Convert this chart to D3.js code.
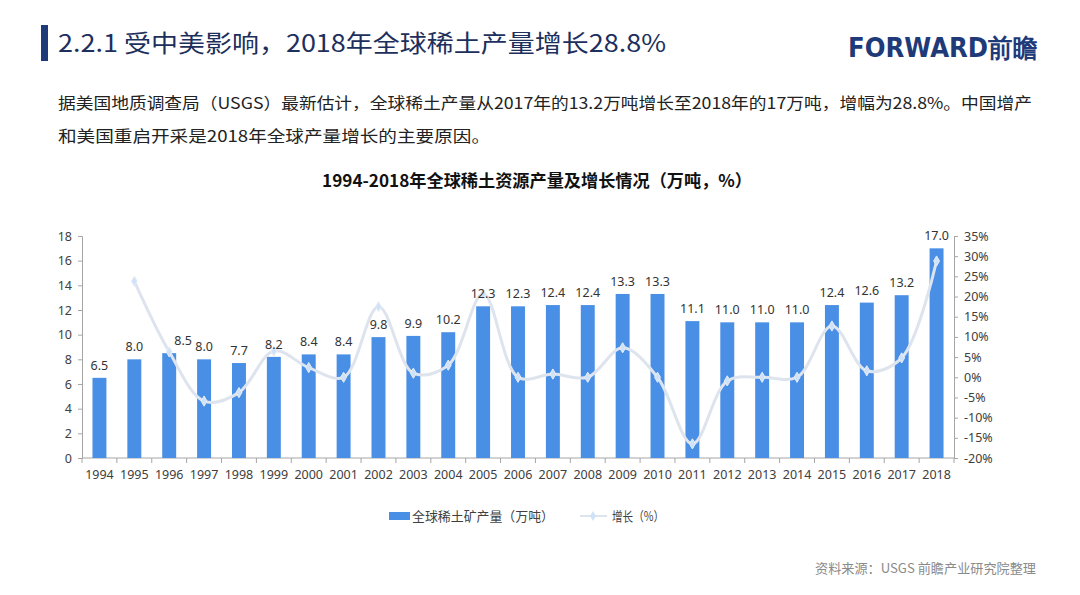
<!DOCTYPE html>
<html>
<head>
<meta charset="utf-8">
<script src="https://cdn.jsdelivr.net/npm/d3@7"></script>
<style>
  body { margin: 0; background: #ffffff; }
  svg { display: block; }
</style>
</head>
<body>
<script>
// data
var years = ["1994", "1995", "1996", "1997", "1998", "1999", "2000", "2001", "2002",
  "2003", "2004", "2005", "2006", "2007", "2008", "2009", "2010", "2011", "2012",
  "2013", "2014", "2015", "2016", "2017", "2018"];
var output = [6.5, 8.0, 8.5, 8.0, 7.7, 8.2, 8.4, 8.4, 9.8, 9.9, 10.2, 12.3, 12.3,
  12.4, 12.4, 13.3, 13.3, 11.1, 11.0, 11.0, 11.0, 12.4, 12.6, 13.2, 17.0];
var growth = [null, 23.8, 6.3, -5.9, -3.8, 6.5, 2.4, 0.0, 17.5, 1.0, 3.0, 20.6, 0.0,
  0.8, 0.0, 7.3, 0.0, -16.5, -0.9, 0.0, 0.0, 12.7, 1.6, 4.8, 28.8];
var leftTicks = [0, 2, 4, 6, 8, 10, 12, 14, 16, 18];
var rightTicks = [-20, -15, -10, -5, 0, 5, 10, 15, 20, 25, 30, 35];

var W = 1080, H = 595;
var svg = d3.select("body").append("svg")
  .attr("width", W)
  .attr("height", H);
var cjk = "'Noto Sans CJK SC', 'Noto Sans', sans-serif";
var lat = "'Noto Sans', 'Liberation Sans', sans-serif";

// header
svg.append("rect")
  .attr("x", 41).attr("y", 25).attr("width", 7).attr("height", 36)
  .attr("fill", "#1f3a78");
svg.append("text")
  .attr("x", 58).attr("y", 52)
  .attr("font-family", cjk).attr("font-size", 24)
  .attr("fill", "#1d2f5c")
  .attr("textLength", 608).attr("lengthAdjust", "spacingAndGlyphs")
  .text("2.2.1 受中美影响，2018年全球稀土产量增长28.8%");
svg.append("text")
  .attr("x", 848).attr("y", 57)
  .attr("font-family", "'DejaVu Sans', sans-serif").attr("font-weight", "bold")
  .attr("font-size", 26)
  .attr("fill", "#1f3a78")
  .attr("textLength", 189).attr("lengthAdjust", "spacingAndGlyphs")
  .text("FORWARD前瞻");

// intro paragraph
svg.append("text")
  .attr("x", 58).attr("y", 109)
  .attr("font-family", cjk).attr("font-size", 16)
  .attr("fill", "#222")
  .attr("textLength", 974).attr("lengthAdjust", "spacingAndGlyphs")
  .text("据美国地质调查局（USGS）最新估计，全球稀土产量从2017年的13.2万吨增长至2018年的17万吨，增幅为28.8%。中国增产");
svg.append("text")
  .attr("x", 58).attr("y", 142)
  .attr("font-family", cjk).attr("font-size", 16)
  .attr("fill", "#222")
  .attr("textLength", 432).attr("lengthAdjust", "spacingAndGlyphs")
  .text("和美国重启开采是2018年全球产量增长的主要原因。");

// chart title
svg.append("text")
  .attr("x", 322).attr("y", 187)
  .attr("font-family", cjk).attr("font-size", 17).attr("font-weight", "bold")
  .attr("fill", "#111")
  .attr("textLength", 430).attr("lengthAdjust", "spacingAndGlyphs")
  .text("1994-2018年全球稀土资源产量及增长情况（万吨，%）");

// scales
var x = d3.scaleBand().domain(years).range([82, 954]).paddingInner(0.6).paddingOuter(0.3);
var y = d3.scaleLinear().domain([0, 18]).range([458, 236]);
var y2 = d3.scaleLinear().domain([-20, 35]).range([458, 236]);

var axisColor = "#a6a6a6";
var labelColor = "#404040";

// left axis
var gl = svg.append("g").attr("transform", "translate(82,0)")
  .call(d3.axisLeft(y).tickValues(leftTicks).tickSize(4).tickPadding(6));
// right axis
var gr = svg.append("g").attr("transform", "translate(954,0)")
  .call(d3.axisRight(y2).tickValues(rightTicks).tickSize(4).tickPadding(6)
    .tickFormat(function (d) { return d + "%"; }));
// bottom axis with ticks between categories
var gb = svg.append("g").attr("transform", "translate(0,458)")
  .call(d3.axisBottom(x).tickSize(0).tickPadding(12));
gb.selectAll(".bt").data(years.concat(["end"])).enter().append("line")
  .attr("class", "bt")
  .attr("x1", function (d, i) { return 82 + i * x.step(); })
  .attr("x2", function (d, i) { return 82 + i * x.step(); })
  .attr("y1", 0).attr("y2", 5)
  .attr("stroke", axisColor);

[gl, gr, gb].forEach(function (g) {
  g.selectAll(".domain").attr("stroke", axisColor);
  g.selectAll(".tick line").attr("stroke", axisColor);
  g.selectAll("text")
    .attr("font-family", lat).attr("font-size", 12.5)
    .attr("fill", labelColor);
});
gb.select(".domain").attr("d", "M82,0H954");

// bars
svg.append("g").selectAll("rect").data(output).enter().append("rect")
  .attr("x", function (d, i) { return x(years[i]); })
  .attr("y", function (d) { return y(d); })
  .attr("width", x.bandwidth())
  .attr("height", function (d) { return y(0) - y(d); })
  .attr("fill", "#4a8fe6");

// growth line
var pts = [];
growth.forEach(function (g, i) {
  if (g !== null) pts.push({ x: x(years[i]) + x.bandwidth() / 2, y: y2(g) });
});
var line = d3.line()
  .x(function (d) { return d.x; })
  .y(function (d) { return d.y; })
  .curve(d3.curveCatmullRom.alpha(0.5));
svg.append("path")
  .attr("d", line(pts))
  .attr("fill", "none")
  .attr("stroke", "#dde4ee")
  .attr("stroke-width", 3)
  .attr("stroke-linecap", "round");
var diamond = d3.symbol().type(d3.symbolDiamond).size(30);
svg.append("g").selectAll("path").data(pts).enter().append("path")
  .attr("d", diamond)
  .attr("transform", function (d) { return "translate(" + d.x + "," + d.y + ")"; })
  .attr("fill", "#cfe2f8")
  .attr("stroke", "#e8eef6")
  .attr("stroke-width", 1);

// bar value labels (1996 label sits a little to the right in the original)
svg.append("g").selectAll("text").data(output).enter().append("text")
  .attr("x", function (d, i) {
    return x(years[i]) + x.bandwidth() / 2 + (years[i] === "1996" ? 14 : 0);
  })
  .attr("y", function (d) { return y(d) - 8; })
  .attr("text-anchor", "middle")
  .attr("font-family", lat).attr("font-size", 12.5)
  .attr("fill", "#333")
  .text(function (d) { return d.toFixed(1); });

// legend
var lg = svg.append("g");
lg.append("rect")
  .attr("x", 389).attr("y", 512).attr("width", 21).attr("height", 8)
  .attr("fill", "#4a8fe6");
lg.append("text")
  .attr("x", 412).attr("y", 521)
  .attr("font-family", cjk).attr("font-size", 13)
  .attr("fill", labelColor)
  .attr("textLength", 142).attr("lengthAdjust", "spacingAndGlyphs")
  .text("全球稀土矿产量（万吨）");
lg.append("line")
  .attr("x1", 580).attr("x2", 607).attr("y1", 516).attr("y2", 516)
  .attr("stroke", "#dde4ee").attr("stroke-width", 2);
lg.append("path")
  .attr("d", diamond)
  .attr("transform", "translate(593,516)")
  .attr("fill", "#cfe2f8");
lg.append("text")
  .attr("x", 612).attr("y", 521)
  .attr("font-family", cjk).attr("font-size", 13)
  .attr("fill", labelColor)
  .attr("textLength", 52).attr("lengthAdjust", "spacingAndGlyphs")
  .text("增长（%）");

// source
svg.append("text")
  .attr("x", 815).attr("y", 573)
  .attr("font-family", cjk).attr("font-size", 13)
  .attr("fill", "#8a8a8a")
  .attr("textLength", 221).attr("lengthAdjust", "spacingAndGlyphs")
  .text("资料来源：USGS 前瞻产业研究院整理");
</script>
</body>
</html>
